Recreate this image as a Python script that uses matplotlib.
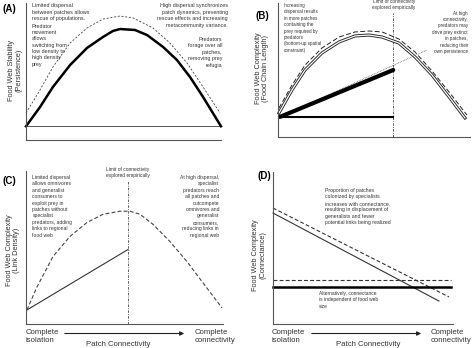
import matplotlib.pyplot as plt
from matplotlib.patches import FancyArrowPatch

plt.rcParams['font.family'] = ['Liberation Sans', 'DejaVu Sans']

W, H = 474, 348  # figure size in pixels

# ---- data (x = patch connectivity 0-10, y = response 0-10) ----
# Panel A: stability
a_x_solid = [0, 0.72, 1.38, 2.26, 3.13, 3.95, 4.46, 4.82, 5.59, 6.21, 7.03, 7.74, 8.41, 9.08, 10]
a_y_solid = [1.0, 2.41, 3.87, 5.47, 6.72, 7.52, 7.96, 8.10, 8.03, 7.66, 6.79, 5.84, 4.60, 3.14, 1.0]
a_x_dash = [0, 0.72, 1.38, 2.26, 3.13, 3.95, 4.82, 5.49, 6.51, 7.38, 8.26, 9.08, 9.95]
a_y_dash = [1.97, 3.65, 5.33, 7.08, 8.18, 8.83, 9.05, 8.91, 8.18, 7.08, 5.62, 3.87, 1.97]
a_base = 1.0

# Panel B: food chain length
b_limit = 6.0
b_x_curve = [0.05, 0.73, 1.41, 2.29, 3.18, 4.01, 4.74, 5.42, 6.30, 7.14, 8.02, 8.91, 9.74]
b_y_double = [1.79, 3.51, 5.00, 6.27, 7.09, 7.54, 7.61, 7.46, 7.01, 5.97, 4.63, 2.99, 1.42]
b_x_dash = [0.05, 0.73, 1.41, 2.29, 3.18, 4.01, 4.74, 5.42, 6.30, 7.14, 8.02, 8.91, 9.84]
b_y_dash = [2.16, 3.88, 5.37, 6.64, 7.46, 7.84, 7.91, 7.84, 7.31, 6.34, 4.93, 3.36, 1.64]
b_x_flat = [0.1, 6.0]
b_y_flat = [1.5, 1.5]
b_x_thick = [0.1, 6.0]
b_y_thick = [1.5, 5.0]
b_x_dot = [0.1, 7.76]
b_y_dot = [1.5, 6.49]

# Panel C: link density
c_limit = 5.18
c_x_solid = [0.05, 5.18]
c_y_solid = [0.92, 4.87]
c_x_dash = [0.05, 0.56, 1.37, 2.23, 3.10, 3.91, 4.77, 5.28, 5.79, 6.45, 7.31, 8.17, 8.98, 9.95]
c_y_dash = [0.92, 2.43, 4.41, 5.72, 6.64, 7.17, 7.37, 7.37, 7.17, 6.51, 5.39, 4.08, 2.70, 1.05]

# Panel D: connectance
d_x_solid = [0, 9.22]
d_y_solid = [7.30, 1.51]
d_x_dash = [0, 9.78]
d_y_dash = [7.63, 1.78]
d_x_flat = [0, 9.9]
d_y_flat = [2.43, 2.43]
d_y_flat_dash = [2.89, 2.89]

AXC = '#555555'
TXC = '#333333'

fig = plt.figure(figsize=(W / 100, H / 100), dpi=100)


def panel(x0, x1, ytop, ybot):
    ax = fig.add_axes([x0 / W, 1 - ybot / H, (x1 - x0) / W, (ybot - ytop) / H])
    ax.set_xlim(0, 10)
    ax.set_ylim(0, 10)
    for s in ['top', 'right']:
        ax.spines[s].set_visible(False)
    for s in ['left', 'bottom']:
        ax.spines[s].set_color(AXC)
        ax.spines[s].set_linewidth(0.8)
    ax.set_xticks([])
    ax.set_yticks([])
    ax.patch.set_alpha(0)
    return ax


def txt(x, y, s, size=3.7, ha='left', ls=1.35, **kw):
    fig.text(x / W, 1 - y / H, s, fontsize=size, ha=ha, va='top',
             multialignment=ha, linespacing=ls, color=TXC, **kw)


def ylab(x, y, s):
    fig.text(x / W, 1 - y / H, s, fontsize=5.3, rotation=90, ha='center',
             va='center', multialignment='center', color=TXC, linespacing=1.15)


def plab(x, y, s):
    fig.text(x / W, 1 - y / H, s, fontsize=7, fontweight='bold', ha='center', va='center')


def xaxis_labels(x0, xa0, xa1, xr, xc):
    txt(x0, 329, 'Complete\nisolation', size=5.6, ls=1.2)
    txt(xr, 329, 'Complete\nconnectivity', size=5.6, ls=1.2)
    txt(xc, 340.5, 'Patch Connectivity', size=5.6, ha='center')
    arr = FancyArrowPatch((xa0 / W, 1 - 333.5 / H), (xa1 / W, 1 - 333.5 / H),
                          transform=fig.transFigure, arrowstyle='-|>',
                          mutation_scale=6, lw=0.8, color='#222222')
    fig.add_artist(arr)


# ---- (A) ----
ax = panel(26, 221, 3, 140)
ax.plot([0, 10], [a_base, a_base], color=AXC, lw=0.7, clip_on=False)
ax.plot(a_x_dash, a_y_dash, color='#444444', lw=0.6, ls=(0, (2.5, 2)), clip_on=False)
ax.plot(a_x_solid, a_y_solid, color='black', lw=1.8, solid_joinstyle='round', clip_on=False)
plab(9, 9, '(A)')
ylab(15, 70, 'Food Web Stability\n(Persistence)')
txt(32, 3.5, 'Limited dispersal\nbetween patches allows\nrescue of populations.', size=3.9)
txt(32, 23.5, 'Predator\nmovement\nallows\nswitching from\nlow density to\nhigh density\nprey', size=3.9)
txt(228, 3.5, 'High dispersal synchronizes\npatch dynamics, preventing\nrescue effects and increasing\nmetacommunity variance.',
    size=3.9, ha='right')
txt(222, 37, 'Predators\nforage over all\npatches,\nremoving prey\nrefugia', size=3.9, ha='right')

# ---- (B) ----
ax = panel(278, 470, 3, 137)
ax.plot([b_limit, b_limit], [0, 9.25], color='#444444', lw=0.6, ls=(0, (3, 1.5, 1, 1.5)), clip_on=False)
ax.plot(b_x_dash, b_y_dash, color='#222222', lw=0.7, ls=(0, (5, 2.5)), clip_on=False)
ax.plot(b_x_curve, b_y_double, color='#222222', lw=2.2, clip_on=False)
ax.plot(b_x_curve, b_y_double, color='white', lw=0.9, clip_on=False)
ax.plot(b_x_dot, b_y_dot, color='#666666', lw=0.6, ls=(0, (1, 1)), clip_on=False)
ax.plot(b_x_thick, b_y_thick, color='black', lw=3.0, solid_capstyle='round', clip_on=False)
ax.plot(b_x_flat, b_y_flat, color='black', lw=1.5, clip_on=False)
plab(262, 16, '(B)')
ylab(262, 68, 'Food Web Complexity\n(Food Chain Length)')
txt(284, 3, 'Increasing\ndispersal results\nin more patches\ncontaining the\nprey required by\npredators\n(bottom-up spatial\nconstraint)',
    size=3.3)
txt(394, -0.5, 'Limit of connectivity\nexplored empirically', size=3.4, ha='center', ls=1.2)
txt(468, 10.5, 'At high\nconnectivity,\npredators may\ndrive prey extinct\nin patches,\nreducing their\nown persistence',
    size=3.3, ha='right')

# ---- (C) ----
ax = panel(26, 223, 171, 324)
ax.plot([c_limit, c_limit], [0, 9.34], color='#444444', lw=0.6, ls=(0, (3, 1.5, 1, 1.5)), clip_on=False)
ax.plot(c_x_dash, c_y_dash, color='#444444', lw=0.8, ls=(0, (3.5, 2)), clip_on=False)
ax.plot(c_x_solid, c_y_solid, color='#333333', lw=0.8, clip_on=False)
plab(9, 181, '(C)')
ylab(13, 250, 'Food Web Complexity\n(Link Density)')
txt(32.5, 175, 'Limited dispersal\nallows omnivores\nand generalist\nconsumers to\nexploit prey in\npatches without\nspecialist\npredators, adding\nlinks to regional\nfood web',
    size=3.6)
txt(128, 167.5, 'Limit of connectivity\nexplored empirically', size=3.5, ha='center', ls=1.2)
txt(219, 175, 'At high dispersal,\nspecialist\npredators reach\nall patches and\noutcompete\nomnivores and\ngeneralist\nconsumers,\nreducing links in\nregional web',
    size=3.6, ha='right')
xaxis_labels(26, 62, 187, 195, 118)

# ---- (D) ----
ax = panel(273, 453, 172, 324)
ax.plot(d_x_dash, d_y_dash, color='#333333', lw=0.8, ls=(0, (3.5, 2)), clip_on=False)
ax.plot(d_x_solid, d_y_solid, color='#333333', lw=0.8, clip_on=False)
ax.plot(d_x_flat, d_y_flat_dash, color='#333333', lw=0.8, ls=(0, (3.5, 2)), clip_on=False)
ax.plot(d_x_flat, d_y_flat, color='black', lw=1.8, clip_on=False)
plab(264, 176, '(D)')
ylab(259, 255, 'Food Web Complexity\n(Connectance)')
txt(325, 188, 'Proportion of patches\ncolonized by specialists\nincreases with connectance,\nresulting in displacement of\ngeneralists and fewer\npotential links being realized',
    size=3.7)
txt(319, 291, 'Alternatively, connectance\nis independent of food web\nsize', size=3.5)
xaxis_labels(272, 309, 424, 431, 368)

fig.savefig('out.png', dpi=100)
